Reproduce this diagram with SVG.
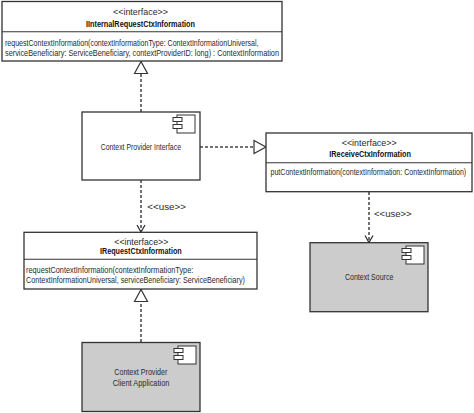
<svg xmlns="http://www.w3.org/2000/svg" width="474" height="413" viewBox="0 0 474 413">
<style>
.box{fill:#ffffff;stroke:#333333;stroke-width:1.3}
.gbox{fill:#cccccc;stroke:#333333;stroke-width:1.3}
.div{stroke:#333333;stroke-width:1.1}
.t{font-family:"Liberation Sans",Arial,sans-serif;font-size:9px;fill:#2a2a2a}
.b{font-family:"Liberation Sans",Arial,sans-serif;font-size:9px;font-weight:bold;fill:#111111}
.dash{fill:none;stroke:#444444;stroke-width:1.5;stroke-dasharray:3,2}
.ic{fill:#ffffff;stroke:#333333;stroke-width:1}
</style>
<defs>
<marker id="tri" markerUnits="userSpaceOnUse" markerWidth="16" markerHeight="16" refX="13" refY="7" orient="auto" overflow="visible">
<path d="M1,0.5 L13,7 L1,13.5 Z" fill="#ffffff" stroke="#333333" stroke-width="1.2"/>
</marker>
<marker id="open" markerUnits="userSpaceOnUse" markerWidth="12" markerHeight="12" refX="8" refY="4" orient="auto" overflow="visible">
<path d="M1,0 L8,4 L1,8" fill="none" stroke="#333333" stroke-width="1.3"/>
</marker>
<g id="comp">
<rect class="ic" x="4" y="0" width="18" height="18"/>
<rect class="ic" x="0" y="2.5" width="9" height="4"/>
<rect class="ic" x="0" y="9.5" width="9" height="4"/>
</g>
</defs>
<rect width="474" height="413" fill="#ffffff"/>

<g id="connectors">
<line class="dash" x1="141" y1="112" x2="141" y2="61.5" marker-end="url(#tri)"/>
<line class="dash" x1="200" y1="147" x2="266" y2="147" marker-end="url(#tri)"/>
<line class="dash" x1="141" y1="180" x2="141" y2="232" marker-end="url(#open)"/>
<text class="t" x="147.3" y="209.7" textLength="38.7" lengthAdjust="spacingAndGlyphs">&lt;&lt;use&gt;&gt;</text>
<line class="dash" x1="369" y1="192" x2="369" y2="242.5" marker-end="url(#open)"/>
<text class="t" x="374" y="217" textLength="37.7" lengthAdjust="spacingAndGlyphs">&lt;&lt;use&gt;&gt;</text>
<line class="dash" x1="141" y1="342" x2="141" y2="289.5" marker-end="url(#tri)"/>
</g>

<g id="IInternalRequestCtxInformation">
<rect class="box" x="2" y="1.5" width="280" height="59.5"/>
<line class="div" x1="2" y1="31.7" x2="282" y2="31.7"/>
<text class="t" x="113" y="14.7" textLength="55" lengthAdjust="spacingAndGlyphs">&lt;&lt;interface&gt;&gt;</text>
<text class="b" x="86" y="26.5" textLength="109" lengthAdjust="spacingAndGlyphs">IInternalRequestCtxInformation</text>
<text class="t" x="5" y="45.9" textLength="253.5" lengthAdjust="spacingAndGlyphs">requestContextInformation(contextInformationType: ContextInformationUniversal,</text>
<text class="t" x="5" y="55.9" textLength="274" lengthAdjust="spacingAndGlyphs">serviceBeneficiary: ServiceBeneficiary, contextProviderID: long) : ContextInformation</text>
</g>

<g id="ContextProviderInterface">
<rect class="box" x="82" y="112" width="118" height="68"/>
<use href="#comp" x="173" y="115"/>
<text class="t" x="100.7" y="149.9" textLength="80.3" lengthAdjust="spacingAndGlyphs">Context Provider Interface</text>
</g>

<g id="IReceiveCtxInformation">
<rect class="box" x="266" y="133" width="206" height="58.7"/>
<line class="div" x1="266" y1="162.7" x2="472" y2="162.7"/>
<text class="t" x="341.7" y="146.2" textLength="55" lengthAdjust="spacingAndGlyphs">&lt;&lt;interface&gt;&gt;</text>
<text class="b" x="329.3" y="157.2" textLength="81.7" lengthAdjust="spacingAndGlyphs">IReceiveCtxInformation</text>
<text class="t" transform="translate(270.5,174.9) scale(0.785,1)" x="0" y="0">putContextInformation(contextInformation: ContextInformation)</text>
</g>

<g id="IRequestCtxInformation">
<rect class="box" x="24" y="232.3" width="233" height="56.7"/>
<line class="div" x1="24" y1="259.3" x2="257" y2="259.3"/>
<text class="t" x="114.3" y="244.9" textLength="54" lengthAdjust="spacingAndGlyphs">&lt;&lt;interface&gt;&gt;</text>
<text class="b" x="100" y="254.2" textLength="81.7" lengthAdjust="spacingAndGlyphs">IRequestCtxInformation</text>
<text class="t" x="26" y="272.5" textLength="167.3" lengthAdjust="spacingAndGlyphs">requestContextInformation(contextInformationType:</text>
<text class="t" x="26" y="282.5" textLength="219" lengthAdjust="spacingAndGlyphs">ContextInformationUniversal, serviceBeneficiary: ServiceBeneficiary)</text>
</g>

<g id="ContextSource">
<rect class="gbox" x="310" y="242.7" width="118" height="69"/>
<use href="#comp" x="402" y="246"/>
<text class="t" x="345" y="279.9" textLength="48.3" lengthAdjust="spacingAndGlyphs">Context Source</text>
</g>

<g id="ContextProviderClientApplication">
<rect class="gbox" x="82" y="342.5" width="118" height="69"/>
<use href="#comp" x="174" y="346"/>
<text class="t" x="114.3" y="374.9" textLength="53" lengthAdjust="spacingAndGlyphs">Context Provider</text>
<text class="t" x="112.7" y="385.5" textLength="56.7" lengthAdjust="spacingAndGlyphs">Client Application</text>
</g>
</svg>
